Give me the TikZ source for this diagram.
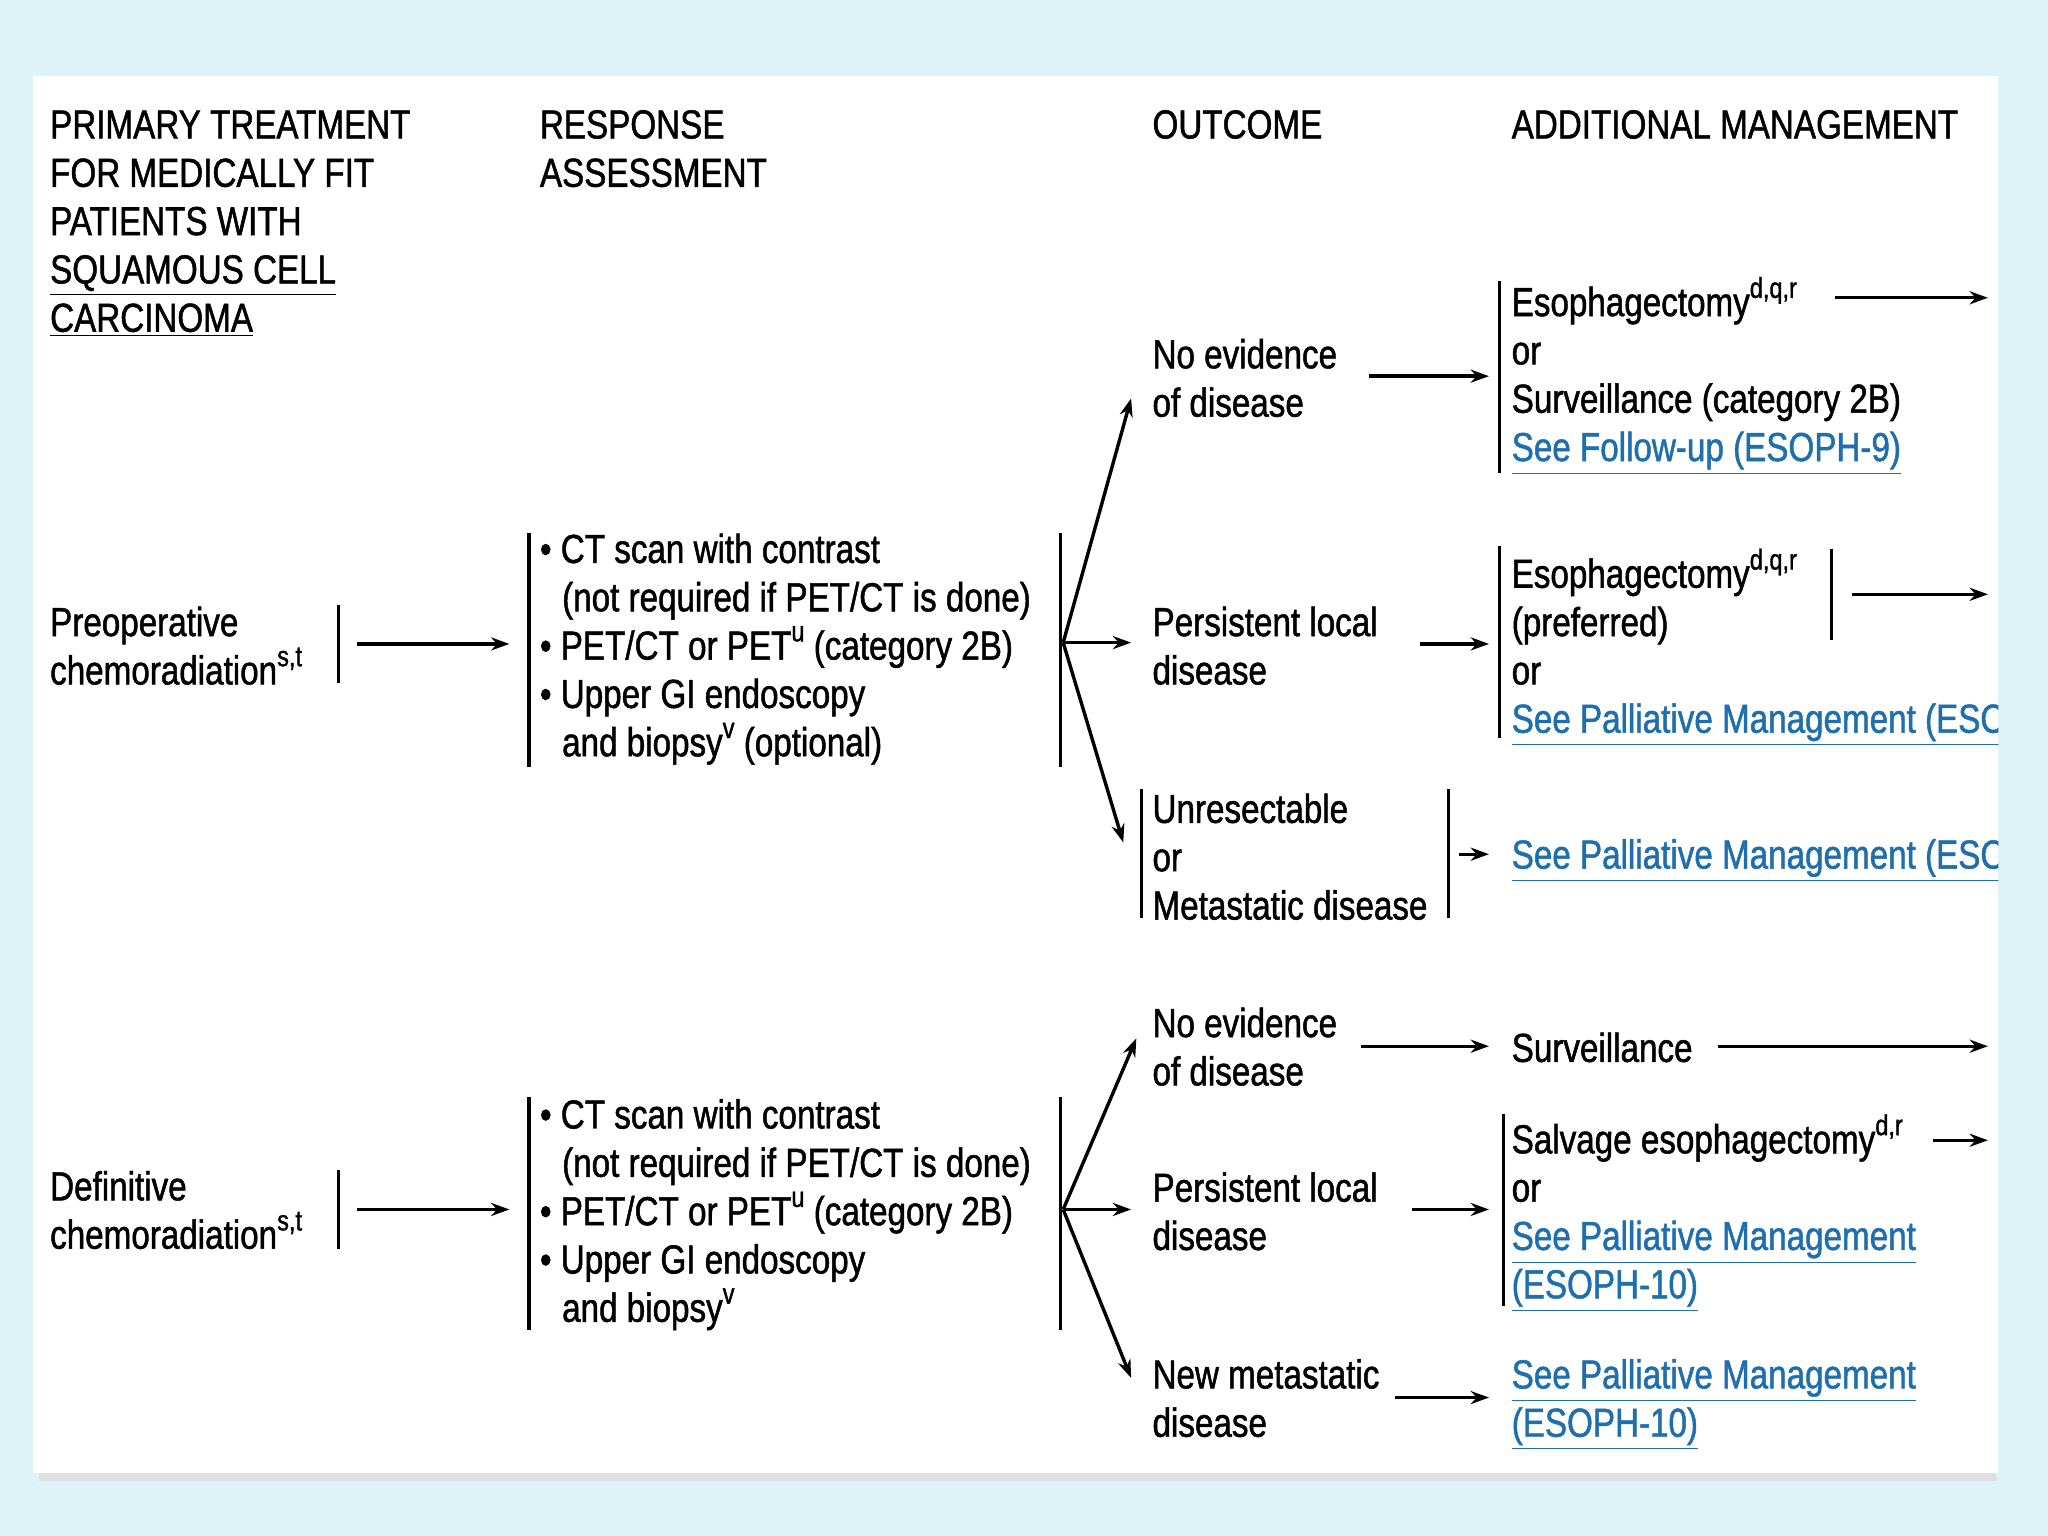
\documentclass[tikz,border=0pt]{standalone}
\usepackage{fontspec}
\setmainfont{Liberation Sans}[FakeStretch=0.82,FakeBold=1.2]
\usetikzlibrary{arrows.meta}
\definecolor{bgblue}{HTML}{DDF3F8}
\definecolor{link}{HTML}{1F6FAE}
\begin{document}
\begin{tikzpicture}[x=0.5pt,y=-0.5pt,
 t/.style={anchor=base west,inner sep=0pt,font=\fontsize{15.5}{18.5}\selectfont},
 lk/.style={t,text=link},
 bar/.style={line width=1.2pt},
 arr/.style={-{Stealth[length=7pt,width=5pt]},line width=1.3pt}]
\fill[bgblue] (0,0) rectangle (1568,1176);
\fill[gray!25] (30,1122) rectangle (1528,1134);
\fill[white] (25,58) rectangle (1530,1128);
\newcommand{\U}[1]{\underline{#1}}
\newcommand{\Sp}[1]{\raisebox{0.45em}{\fontsize{11}{12}\selectfont #1}}
% headers
\node[t] (h1) at (38,106) {PRIMARY TREATMENT};
\node[t] (h2) at (38,143) {FOR MEDICALLY FIT};
\node[t] (h3) at (38,180) {PATIENTS WITH};
\node[t] (h4) at (38,217) {\U{SQUAMOUS CELL}};
\node[t] (h5) at (38,254) {\U{CARCINOMA}};
\node[t] (h6) at (413,106) {RESPONSE};
\node[t] (h7) at (413,143) {ASSESSMENT};
\node[t] (h8) at (882,106) {OUTCOME};
\node[t] (h9) at (1157,106) {ADDITIONAL MANAGEMENT};
% upper
\node[t] (p1) at (38,487) {Preoperative};
\node[t] (p2) at (38,524) {chemoradiation\Sp{s,t}};
\draw[bar] (259,463) -- (259,523);
\coordinate (pa) at (273,493); \coordinate (pb) at (390,493);
\draw[arr] (pa) -- (pb);
\draw[bar] (405,408) -- (405,587); \draw[bar] (812,408) -- (812,587);
\node[t] (r1) at (413,431) {• CT scan with contrast};
\node[t] (r2) at (430,468) {(not required if PET/CT is done)};
\node[t] (r3) at (413,505) {• PET/CT or PET\Sp{u} (category 2B)};
\node[t] (r4) at (413,542) {• Upper GI endoscopy};
\node[t] (r5) at (430,579) {and biopsy\Sp{v} (optional)};
\coordinate (ro) at (814,492);
\coordinate (o1) at (866,305); \coordinate (o2) at (866,492); \coordinate (o3) at (860,645);
\draw[arr] (ro) -- (o1); \draw[arr] (ro) -- (o2); \draw[arr] (ro) -- (o3);
\node[t] (n1) at (882,282) {No evidence};
\node[t] (n2) at (882,319) {of disease};
\coordinate (na) at (1048,288); \coordinate (nb) at (1140,288); \draw[arr] (na) -- (nb);
\draw[bar] (1148,215) -- (1148,362);
\node[t] (e1) at (1157,242) {Esophagectomy\Sp{d,q,r}};
\node[t] (e2) at (1157,279) {or};
\node[t] (e3) at (1157,316) {Surveillance (category 2B)};
\node[lk] (e4) at (1157,353) {\U{See Follow-up (ESOPH-9)}};
\coordinate (ea) at (1405,228); \coordinate (eb) at (1522,228); \draw[arr] (ea) -- (eb);
\node[t] (q1) at (882,487) {Persistent local};
\node[t] (q2) at (882,524) {disease};
\coordinate (qa) at (1087,493); \coordinate (qb) at (1140,493); \draw[arr] (qa) -- (qb);
\draw[bar] (1148,418) -- (1148,565); \draw[bar] (1402,420) -- (1402,490);
\coordinate (sa) at (1418,455); \coordinate (sb) at (1522,455); \draw[arr] (sa) -- (sb);
\begin{scope}
\clip (0,0) rectangle (1530,1176);
\node[t] (s1) at (1157,450) {Esophagectomy\Sp{d,q,r}};
\node[t] (s2) at (1157,487) {(preferred)};
\node[t] (s3) at (1157,524) {or};
\node[lk] (s4) at (1157,561) {\U{See Palliative Management (ESOPH-10)}};
\node[lk] (u4) at (1157,665) {\U{See Palliative Management (ESOPH-10)}};
\end{scope}
\draw[bar] (874,604) -- (874,703); \draw[bar] (1109,604) -- (1109,703);
\node[t] (u1) at (882,630) {Unresectable};
\node[t] (u2) at (882,667) {or};
\node[t] (u3) at (882,704) {Metastatic disease};
\coordinate (ua) at (1117,654); \coordinate (ub) at (1140,654); \draw[arr] (ua) -- (ub);
% lower
\node[t] (d1) at (38,919) {Definitive};
\node[t] (d2) at (38,956) {chemoradiation\Sp{s,t}};
\draw[bar] (259,896) -- (259,956);
\coordinate (da) at (273,926); \coordinate (db) at (390,926); \draw[arr] (da) -- (db);
\draw[bar] (405,840) -- (405,1018); \draw[bar] (812,840) -- (812,1018);
\node[t] (k1) at (413,864) {• CT scan with contrast};
\node[t] (k2) at (430,901) {(not required if PET/CT is done)};
\node[t] (k3) at (413,938) {• PET/CT or PET\Sp{u} (category 2B)};
\node[t] (k4) at (413,975) {• Upper GI endoscopy};
\node[t] (k5) at (430,1012) {and biopsy\Sp{v}};
\coordinate (ko) at (814,926);
\coordinate (m1) at (870,795); \coordinate (m2) at (866,926); \coordinate (m3) at (866,1055);
\draw[arr] (ko) -- (m1); \draw[arr] (ko) -- (m2); \draw[arr] (ko) -- (m3);
\node[t] (a1) at (882,794) {No evidence};
\node[t] (a2) at (882,831) {of disease};
\coordinate (aa) at (1042,801); \coordinate (ab) at (1140,801); \draw[arr] (aa) -- (ab);
\node[t] (sv) at (1157,813) {Surveillance};
\coordinate (va) at (1315,801); \coordinate (vb) at (1522,801); \draw[arr] (va) -- (vb);
\node[t] (b1) at (882,920) {Persistent local};
\node[t] (b2) at (882,957) {disease};
\coordinate (ba) at (1081,926); \coordinate (bb) at (1140,926); \draw[arr] (ba) -- (bb);
\draw[bar] (1151,853) -- (1151,1000);
\node[t] (g1) at (1157,883) {Salvage esophagectomy\Sp{d,r}};
\node[t] (g2) at (1157,920) {or};
\node[lk] (g3) at (1157,957) {\U{See Palliative Management}};
\node[lk] (g4) at (1157,994) {\U{(ESOPH-10)}};
\coordinate (ga) at (1480,873); \coordinate (gb) at (1522,873); \draw[arr] (ga) -- (gb);
\node[t] (c1) at (882,1063) {New metastatic};
\node[t] (c2) at (882,1100) {disease};
\coordinate (ca) at (1068,1070); \coordinate (cb) at (1140,1070); \draw[arr] (ca) -- (cb);
\node[lk] (l1) at (1157,1063) {\U{See Palliative Management}};
\node[lk] (l2) at (1157,1100) {\U{(ESOPH-10)}};
\end{tikzpicture}
\end{document}
